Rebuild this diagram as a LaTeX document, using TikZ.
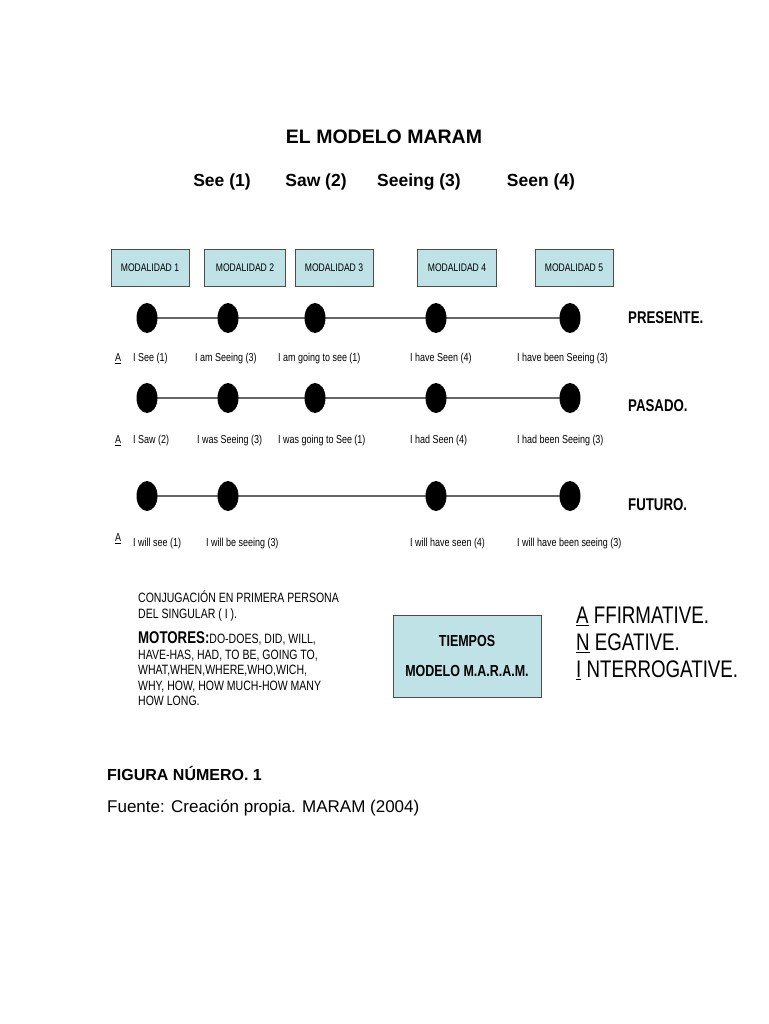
\documentclass[tikz,border=0pt]{standalone}
\usepackage{fontspec}
\setmainfont{Liberation Sans}
\newfontfamily\narrow[FakeStretch=0.78]{Liberation Sans}
\definecolor{boxfill}{RGB}{190,226,230}
\begin{document}
\begin{tikzpicture}[x=1pt,y=-1pt,
  mbox/.style={draw=black!70,fill=boxfill,minimum width=78pt,minimum height=37pt,font=\narrow\fontsize{11}{12}\selectfont},
  lab/.style={anchor=west,font=\narrow\fontsize{11.5}{12}\selectfont,inner sep=0pt},
  rowlab/.style={anchor=west,font=\narrow\bfseries\fontsize{17}{18}\selectfont,inner sep=0pt},
  hdr/.style={font=\bfseries\fontsize{17.5}{19}\selectfont}]
\useasboundingbox (0,0) rectangle (768,1024);
\node[font=\bfseries\fontsize{19.5}{21}\selectfont] (title) at (384,137) {EL MODELO MARAM};
\node[hdr] (h1) at (222,182) {See (1)};
\node[hdr] (h2) at (316,182) {Saw (2)};
\node[hdr] (h3) at (419,182) {Seeing (3)};
\node[hdr] (h4) at (541,182) {Seen (4)};
\node[mbox] (m1) at (150,268) {MODALIDAD 1};
\node[mbox,minimum width=81pt] (m2) at (245,268) {MODALIDAD 2};
\node[mbox] (m3) at (334,268) {MODALIDAD 3};
\node[mbox,minimum width=79pt] (m4) at (457,268) {MODALIDAD 4};
\node[mbox] (m5) at (574,268) {MODALIDAD 5};
\foreach \r/\y in {p/318,s/398,f/496}{
  \foreach \i/\x in {1/147,2/228,3/315,4/436,5/570}{
    \coordinate (\r\i) at (\x,\y);
  }
}
\draw[black!60,line width=1.3pt] (p1) -- (p5);
\draw[black!60,line width=1.3pt] (s1) -- (s5);
\draw[black!60,line width=1.3pt] (f1) -- (f5);
\foreach \n in {p1,p2,p3,p4,p5,s1,s2,s3,s4,s5,f1,f2,f4,f5}{
  \fill (\n) ellipse (10.5pt and 15pt);
}
\node[rowlab] (pres) at (628,318) {PRESENTE.};
\node[rowlab] (pas) at (628,406) {PASADO.};
\node[rowlab] (fut) at (628,505) {FUTURO.};
\node[lab] (a1) at (115,359) {\underline{A}};
\node[lab] (t11) at (133,359) {I See (1)};
\node[lab] (t12) at (195,359) {I am Seeing (3)};
\node[lab] (t13) at (278,359) {I am going to see (1)};
\node[lab] (t14) at (410,359) {I have Seen (4)};
\node[lab] (t15) at (517,359) {I have been Seeing (3)};
\node[lab] (a2) at (115,441) {\underline{A}};
\node[lab] (t21) at (133,441) {I Saw (2)};
\node[lab] (t22) at (197,441) {I was Seeing (3)};
\node[lab] (t23) at (278,441) {I was going to See (1)};
\node[lab] (t24) at (410,441) {I had Seen (4)};
\node[lab] (t25) at (517,441) {I had been Seeing (3)};
\node[lab] (a3) at (115,539) {\underline{A}};
\node[lab] (t31) at (133,544) {I will see (1)};
\node[lab] (t32) at (206,544) {I will be seeing (3)};
\node[lab] (t34) at (410,544) {I will have seen (4)};
\node[lab] (t35) at (517,544) {I will have been seeing (3)};
\node[anchor=north west,inner sep=0pt,align=left,font=\narrow\fontsize{13.5}{15.5}\selectfont] (conj) at (138,591)
 {CONJUGACIÓN EN PRIMERA PERSONA\\DEL SINGULAR ( I ).\\[10pt]
  {\bfseries\fontsize{17}{15.5}\selectfont MOTORES:}DO-DOES, DID, WILL,\\HAVE-HAS, HAD, TO BE, GOING TO,\\WHAT,WHEN,WHERE,WHO,WICH,\\WHY, HOW,  HOW MUCH-HOW MANY\\HOW LONG.};
\node[draw=black!70,fill=boxfill,minimum width=148pt,minimum height=82pt,align=center,
  font=\narrow\bfseries\fontsize{16}{30}\selectfont] (tiempos) at (467,656) {TIEMPOS\\MODELO M.A.R.A.M.};
\node[anchor=north west,inner sep=0pt,align=left,font=\narrow\fontsize{24}{27}\selectfont] (anI) at (576,607)
 {\underline{A} FFIRMATIVE.\\\underline{N} EGATIVE.\\\underline{I} NTERROGATIVE.};
\node[anchor=west,inner sep=0pt,font=\bfseries\fontsize{16}{17}\selectfont] (fig) at (107,773) {FIGURA NÚMERO. 1};
\node[anchor=west,inner sep=0pt,font=\fontsize{17}{19}\selectfont] (fue) at (107,808) {Fuente: Creación propia. MARAM (2004)};
\end{tikzpicture}
\end{document}
